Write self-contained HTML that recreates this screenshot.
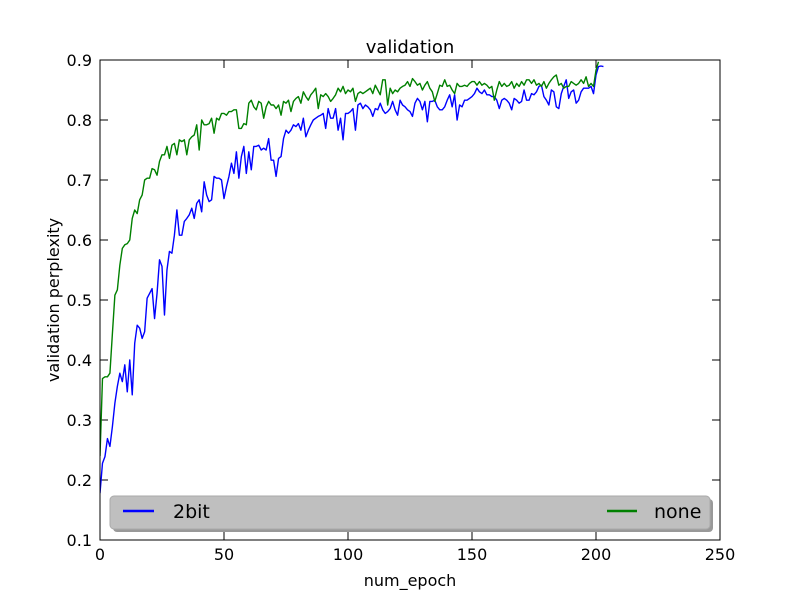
<!DOCTYPE html>
<html><head><meta charset="utf-8"><style>
body{margin:0;background:#fff;}
svg text{font-family:"DejaVu Sans","Liberation Sans",sans-serif;}
</style></head><body>
<svg id="chart" width="800" height="600" viewBox="0 0 800 600" xmlns="http://www.w3.org/2000/svg">
<rect width="800" height="600" fill="#fff"/>
<g id="axes"></g>
<g id="series" clip-path="url(#clip)"></g>
<defs><clipPath id="clip"><rect x="100" y="60" width="620" height="480"/></clipPath></defs>
<rect x="100" y="60" width="620" height="480" fill="none" stroke="#000" stroke-width="1"/>
<text x="410" y="53" font-size="18" text-anchor="middle">validation</text>
<text x="410" y="586" font-size="16" text-anchor="middle">num_epoch</text>
<text x="59" y="300" font-size="16" text-anchor="middle" transform="rotate(-90 59 300)">validation perplexity</text>
<g>
<rect x="113" y="499" width="600" height="33" rx="4" fill="#7f7f7f" opacity="0.8"/>
<rect x="110" y="496" width="600" height="33" rx="4" fill="#bfbfbf" stroke="#aaaaaa" stroke-width="1"/>
<line x1="123" y1="511" x2="154" y2="511" stroke="#0000ff" stroke-width="2.5"/>
<text x="173" y="518" font-size="19">2bit</text>
<line x1="607" y1="511" x2="637" y2="511" stroke="#008000" stroke-width="2.5"/>
<text x="654" y="518" font-size="19">none</text>
</g>
</svg>
<script>
const xTicks = [0, 50, 100, 150, 200, 250];
const yTicks = [0.1, 0.2, 0.3, 0.4, 0.5, 0.6, 0.7, 0.8, 0.9];
const yTickLabels = ["0.1","0.2","0.3","0.4","0.5","0.6","0.7","0.8","0.9"];
const seriesNames = ["2bit", "none"];
const blue2bit = [.178,.228,.239,.269,.256,.289,.328,.356,.378,.364,.392,.347,.4,.342,.428,.458,.453,.436,.447,.503,.511,.519,.469,.511,.567,.556,.475,.55,.581,.578,.608,.65,.608,.608,.631,.636,.642,.653,.636,.661,.667,.647,.697,.675,.664,.667,.706,.703,.703,.7,.669,.689,.706,.728,.711,.747,.703,.739,.756,.711,.747,.717,.756,.756,.758,.75,.753,.75,.769,.733,.733,.706,.736,.739,.769,.783,.778,.783,.792,.789,.794,.783,.803,.772,.783,.792,.8,.803,.806,.808,.811,.786,.819,.803,.803,.819,.783,.803,.767,.811,.811,.814,.819,
.783,.825,.828,.819,.825,.822,.817,.806,.819,.817,.828,.817,.811,.814,.819,.831,.817,.808,.833,.825,.822,.817,.814,.806,.828,.836,.831,.817,.831,.797,.831,.831,.833,.822,.817,.817,.822,.833,.842,.822,.842,.8,.825,.822,.833,.833,.836,.839,.844,.853,.847,.844,.85,.842,.842,.839,.839,.833,.819,.833,.836,.833,.828,.817,.836,.833,.828,.831,.85,.833,.833,.844,.842,.847,.856,.858,.839,.833,.825,.85,.847,.822,.819,.844,.856,.867,.836,.847,.85,.828,.833,.847,.853,.853,.853,.856,.844,.875,.889,.89,.889];
const greenNone = [.24,.369,.372,.372,.378,.444,.508,.517,.558,.586,.592,.594,.6,.636,.65,.644,.667,.675,.7,.703,.703,.719,.717,.708,.731,.742,.742,.756,.736,.758,.761,.742,.767,.764,.767,.742,.767,.772,.775,.792,.75,.8,.792,.792,.794,.803,.778,.803,.8,.811,.811,.808,.814,.814,.817,.817,.786,.786,.794,.792,.828,.833,.822,.817,.831,.828,.803,.822,.831,.825,.825,.819,.825,.808,.831,.828,.833,.814,.831,.836,.839,.828,.847,.839,.833,.842,.847,.853,.819,.842,.839,.844,.839,.831,.836,.842,.853,.847,.856,.844,.85,.847,.853,
.831,.844,.847,.844,.847,.85,.853,.844,.858,.85,.842,.867,.867,.825,.853,.844,.85,.847,.853,.856,.858,.864,.856,.869,.864,.858,.861,.85,.858,.864,.853,.847,.831,.844,.858,.856,.867,.856,.858,.85,.844,.861,.856,.856,.858,.856,.861,.864,.864,.858,.864,.858,.861,.858,.853,.856,.833,.85,.864,.856,.861,.856,.858,.864,.853,.861,.856,.864,.858,.867,.867,.861,.867,.858,.861,.856,.864,.853,.861,.867,.872,.875,.858,.861,.853,.856,.856,.864,.861,.858,.861,.867,.861,.872,.856,.861,.856,.883,.897];

const NS = "http://www.w3.org/2000/svg";
function xScale(v){ return 100 + (v - 0) / 250 * 620; }
function yScale(v){ return 540 - (v - 0.1) / 0.8 * 480; }
const axes = document.getElementById('axes');
const series = document.getElementById('series');
xTicks.forEach(function(t){
  const x = xScale(t);
  const l1 = document.createElementNS(NS, 'line');
  l1.setAttribute('x1', x); l1.setAttribute('x2', x); l1.setAttribute('y1', 540); l1.setAttribute('y2', 532);
  l1.setAttribute('stroke', '#000');
  
  
  axes.appendChild(l1);
  const l2 = document.createElementNS(NS, 'line');
  l2.setAttribute('x1', x); l2.setAttribute('x2', x); l2.setAttribute('y1', 60); l2.setAttribute('y2', 68);
  l2.setAttribute('stroke', '#000');
  
  
  axes.appendChild(l2);
  const tx = document.createElementNS(NS, 'text');
  tx.setAttribute('x', x); tx.setAttribute('y', 560);
  tx.setAttribute('font-size', '16'); tx.setAttribute('text-anchor', 'middle');
  tx.textContent = String(t);
  
  
  axes.appendChild(tx);
});
yTicks.forEach(function(t, i){
  const y = yScale(t);
  const l1 = document.createElementNS(NS, 'line');
  l1.setAttribute('x1', 100); l1.setAttribute('x2', 108); l1.setAttribute('y1', y); l1.setAttribute('y2', y);
  l1.setAttribute('stroke', '#000');
  
  
  axes.appendChild(l1);
  const l2 = document.createElementNS(NS, 'line');
  l2.setAttribute('x1', 712); l2.setAttribute('x2', 720); l2.setAttribute('y1', y); l2.setAttribute('y2', y);
  l2.setAttribute('stroke', '#000');
  
  
  axes.appendChild(l2);
  const tx = document.createElementNS(NS, 'text');
  tx.setAttribute('x', 92); tx.setAttribute('y', y + 6);
  tx.setAttribute('font-size', '16'); tx.setAttribute('text-anchor', 'end');
  tx.textContent = yTickLabels[i];
  
  
  axes.appendChild(tx);
});
function drawLine(vals, color, name){
  const p = document.createElementNS(NS, 'polyline');
  p.setAttribute('points', vals.map(function(v, i){ return xScale(i).toFixed(2) + ',' + yScale(v).toFixed(2); }).join(' '));
  p.setAttribute('fill', 'none'); p.setAttribute('stroke', color);
  p.setAttribute('stroke-width', '1.4'); p.setAttribute('stroke-linejoin', 'round');
  
  
  series.appendChild(p);
}
drawLine(blue2bit, '#0000ff', 'series-2bit-line');
drawLine(greenNone, '#008000', 'series-none-line');
</script>
</body></html>
